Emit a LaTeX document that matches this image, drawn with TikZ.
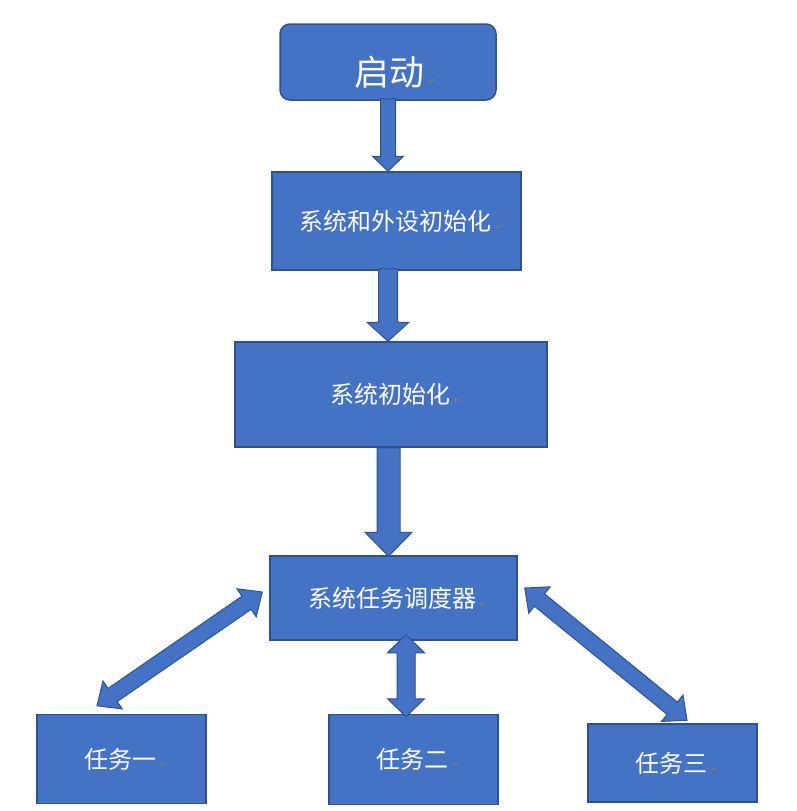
\documentclass[tikz,border=0pt]{standalone}
\usepackage{fontspec}
\setmainfont{Noto Sans CJK SC}
\newfontfamily\dejavu{DejaVu Sans}
\usepackage{tikz}
\usetikzlibrary{calc}
\definecolor{boxblue}{HTML}{4472C4}
\definecolor{boxedge}{HTML}{2F528F}
\definecolor{markgray}{HTML}{7F7F7F}
\newcommand{\retmark}{{\hspace{3pt}\dejavu\fontsize{10}{10}\selectfont\color{markgray}↵}}
\newcommand{\boxtext}[1]{\hspace{10pt}#1\retmark}
\newcommand{\blockarrow}[5]{%
\coordinate (ba) at ($(#2)!#5!(#1)$);
\draw[arrowbody] ($(#1)!#3!90:(#2)$) -- ($(ba)!#3!-90:(#1)$) -- ($(ba)!#4!-90:(#1)$) -- (#2)
  -- ($(ba)!#4!90:(#1)$) -- ($(ba)!#3!90:(#1)$) -- ($(#1)!#3!-90:(#2)$) -- cycle;}
\newcommand{\twowayarrow}[5]{%
\coordinate (ta) at ($(#1)!#5!(#2)$);
\coordinate (tb) at ($(#2)!#5!(#1)$);
\draw[arrowbody] (#1) -- ($(ta)!#4!90:(#2)$) -- ($(ta)!#3!90:(#2)$) -- ($(tb)!#3!-90:(#1)$)
  -- ($(tb)!#4!-90:(#1)$) -- (#2) -- ($(tb)!#4!90:(#1)$) -- ($(tb)!#3!90:(#1)$)
  -- ($(ta)!#3!-90:(#2)$) -- ($(ta)!#4!-90:(#2)$) -- cycle;}
\tikzset{
  box/.style={draw=boxedge, fill=boxblue, line width=1.5pt, inner sep=0pt,
    text=white, font=\fontsize{24}{24}\selectfont},
  arrowbody/.style={draw=boxedge, fill=boxblue, line width=1pt, line join=miter}
}
\begin{document}
\begin{tikzpicture}[x=1pt, y=-1pt]
\useasboundingbox (0,0) rectangle (797,811);
\node[box, rounded corners=10pt, minimum width=216pt, minimum height=76pt] (start) at (388,62) {};
\node[text=white, font=\fontsize{35}{35}\selectfont, inner sep=0pt] (startlabel) at ([xshift=7pt,yshift=-10pt]start.center) {启动\retmark};
\node[box, minimum width=249pt, minimum height=98pt] (hwinit) at (396.5,221) {\boxtext{系统和外设初始化}};
\node[box, minimum width=312pt, minimum height=105pt] (sysinit) at (391,394.5) {\boxtext{系统初始化}};
\node[box, minimum width=247pt, minimum height=84pt] (sched) at (393.5,598) {\boxtext{系统任务调度器}};
\node[box, minimum width=169pt, minimum height=89pt] (taska) at (121.5,759) {\boxtext{任务一}};
\node[box, minimum width=169pt, minimum height=90pt] (taskb) at (413.5,759.5) {\boxtext{任务二}};
\node[box, minimum width=169pt, minimum height=78pt] (taskc) at (672.5,763) {\boxtext{任务三}};
\coordinate (a1) at ([yshift=2pt]start.south);
\coordinate (a2) at (start.south |- hwinit.north);
\coordinate (b1) at ([yshift=2pt]start.south |- hwinit.south);
\coordinate (b2) at (start.south |- sysinit.north);
\coordinate (c1) at ([xshift=0.5pt]start.south |- sysinit.south);
\coordinate (c2) at ([xshift=0.5pt,yshift=-1pt]start.south |- sched.north);
\coordinate (d1) at ([xshift=12.5pt,yshift=6pt]sched.south);
\coordinate (d2) at ([xshift=-7.5pt,yshift=-3pt]taskb.north);
\coordinate (e1) at ([xshift=-7pt,yshift=6pt]sched.west);
\coordinate (e2) at ([xshift=-24.5pt,yshift=8pt]taska.north);
\coordinate (f1) at ([xshift=7pt,yshift=10pt]sched.east);
\coordinate (f2) at ([xshift=14.5pt,yshift=3pt]taskc.north);
\blockarrow{a1}{a2}{7.5pt}{15.5pt}{15pt}
\blockarrow{b1}{b2}{9.5pt}{21pt}{19pt}
\blockarrow{c1}{c2}{11.5pt}{23.5pt}{24pt}
\twowayarrow{d1}{d2}{9pt}{18.5pt}{18pt}
\twowayarrow{e1}{e2}{8pt}{17pt}{19pt}
\twowayarrow{f1}{f2}{8pt}{17pt}{19pt}
\end{tikzpicture}
\end{document}
